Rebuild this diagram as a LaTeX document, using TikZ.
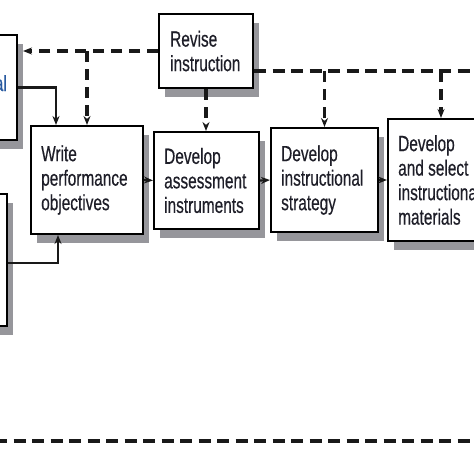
\documentclass[tikz,border=0pt]{standalone}
\usepackage{fontspec}
\setmainfont{Liberation Sans}[FakeStretch=0.7,FakeBold=0.4]
\usetikzlibrary{arrows.meta,calc,shadows}
\definecolor{shadowgray}{RGB}{150,150,155}
\definecolor{txtcol}{RGB}{30,30,40}
\definecolor{bluetxt}{RGB}{40,90,160}
\tikzset{
  stepbox/.style={draw=black, line width=2pt, fill=white, rectangle, inner sep=0pt,
    drop shadow={shadow xshift=6pt, shadow yshift=-8.5pt, fill=shadowgray, opacity=1}},
  boxtext/.style={anchor=west, inner sep=0pt, align=left, text=txtcol,
    font=\fontsize{22}{24.5}\selectfont},
  tip/.style={-{Stealth[length=9pt,width=7pt]}},
  solidarrow/.style={tip, line width=2.2pt, draw=black!90},
  dasharrow/.style={tip, line width=3.2pt, draw=black!90, dash pattern=on 11pt off 7pt},
  dashline/.style={line width=3.2pt, draw=black!90, dash pattern=on 12pt off 6.5pt}
}
\begin{document}
\begin{tikzpicture}[x=1pt,y=-1pt]
\useasboundingbox (0,0) rectangle (474,474);
% boxes
\node[stepbox, minimum width=117pt, minimum height=105pt] (L1) at (-41.5,87.5) {};
\node[stepbox, minimum width=107pt, minimum height=132pt] (L2) at (-46.5,260) {};
\node[stepbox, minimum width=112pt, minimum height=108pt] (W) at (87,180) {};
\node[stepbox, minimum width=105pt, minimum height=97pt] (A) at (206.5,180.5) {};
\node[stepbox, minimum width=107pt, minimum height=104pt] (S) at (324.5,180) {};
\node[stepbox, minimum width=132pt, minimum height=122pt] (M) at (454,180) {};
\node[stepbox, minimum width=94pt, minimum height=74pt] (R) at (206,51) {};
% texts
\node[anchor=base east, inner sep=0pt, text=bluetxt, font=\fontsize{22}{24.5}\selectfont] (t1) at (7,91) {al};
\node[boxtext] (tW) at ($(W.west)+(11,0)$) {Write\\performance\\objectives};
\node[boxtext] (tA) at ($(A.west)+(11,0)$) {Develop\\assessment\\instruments};
\node[boxtext] (tS) at ($(S.west)+(11,0)$) {Develop\\instructional\\strategy};
\node[boxtext] (tM) at ($(M.west)+(11,0)$) {Develop\\and select\\instructional\\materials};
\node[boxtext] (tR) at ($(R.west)+(12,0)$) {Revise\\instruction};
% coordinates
\coordinate (lt) at (23,51);
\coordinate (wn1) at ($(W.north west)+(26,0)$);
\coordinate (wb) at ($(W.south west)+(28,0)$);
\coordinate (re) at ($(R.east)+(0,20)$);
\coordinate (rend) at (480,71);
\coordinate (mt) at ($(M.north west)+(54,0)$);
\coordinate (l2e) at ($(L2.east)+(0,3)$);
\coordinate (bl) at (-5,441);
\coordinate (br) at (480,441);
% connectors
\draw[dasharrow] (R.west) -- (lt);
\draw[dasharrow] (R.west -| W.north) -- (W.north);
\draw[solidarrow] (L1.east) -| (wn1);
\draw[dasharrow] (R.south) -- (R.south |- A.north);
\draw[dashline] (re) -- (rend);
\draw[dasharrow] (S.north |- re) -- (S.north);
\draw[dasharrow] (mt |- re) -- (mt);
\draw[solidarrow] (W.east) -- (A.west);
\draw[solidarrow] (A.east) -- (S.west);
\draw[solidarrow] (S.east) -- (M.west);
\draw[solidarrow] (l2e) -| (wb);
\draw[dashline] (bl) -- (br);
\end{tikzpicture}
\end{document}
